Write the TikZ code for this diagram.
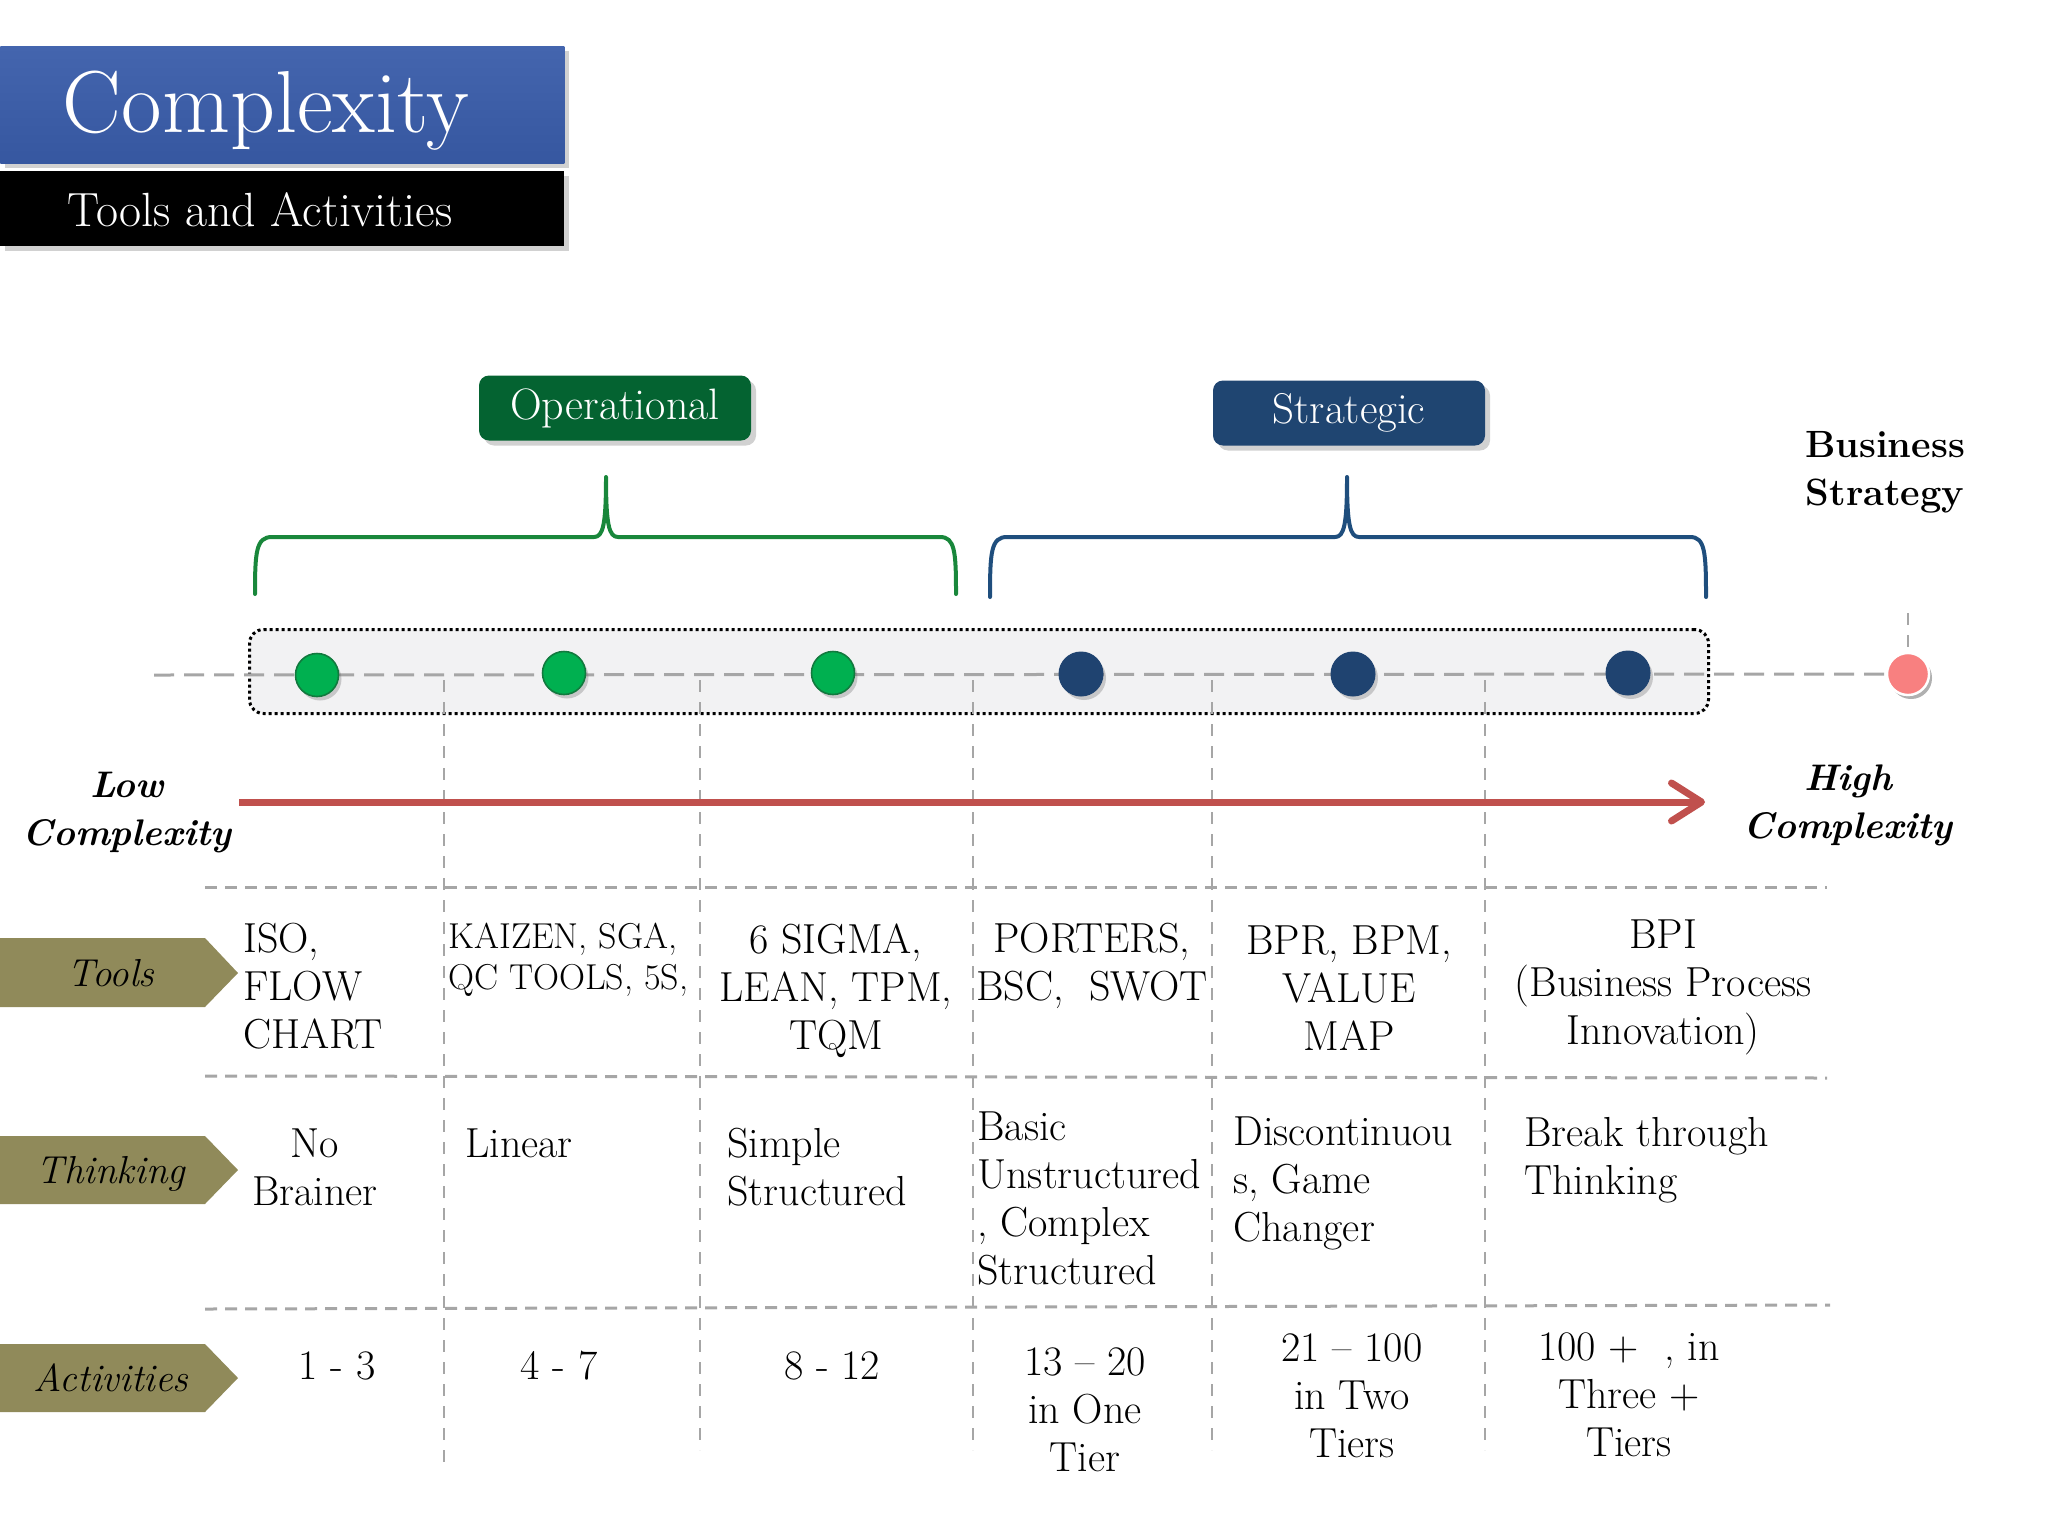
\documentclass[tikz,border=0pt]{standalone}
\usetikzlibrary{arrows.meta,shadows}
\definecolor{titleblueA}{HTML}{4465AE}
\definecolor{titleblueB}{HTML}{3657A0}
\definecolor{opgreen}{HTML}{046331}
\definecolor{stblue}{HTML}{1F4571}
\definecolor{bracegreen}{HTML}{19873B}
\definecolor{braceblue}{HTML}{1F4E7D}
\definecolor{dotgreen}{HTML}{00B050}
\definecolor{dotgreenb}{HTML}{127A3E}
\definecolor{dotblue}{HTML}{1F4370}
\definecolor{dotred}{HTML}{F88080}
\definecolor{arrowred}{HTML}{C0504D}
\definecolor{olivelab}{HTML}{908A5A}
\definecolor{dashgray}{HTML}{A6A6A6}
\definecolor{boxgray}{HTML}{F2F2F3}
\newcommand\cellfnt{\fontsize{21}{24}\selectfont}
\newcommand\smallcellfnt{\fontsize{18}{20.5}\selectfont}
\begin{document}
\begin{tikzpicture}[x=0.5pt,y=-0.5pt,
  softshadow/.style={drop shadow={shadow xshift=2.5pt,shadow yshift=-2.5pt,opacity=0.3,fill=black!60}},
  dotshadow/.style={drop shadow={shadow xshift=1.5pt,shadow yshift=-2pt,opacity=0.3,fill=black!60}},
  labbox/.style={rounded corners=5pt,text=white,minimum width=136pt,minimum height=32.5pt,softshadow},
  cell/.style={inner sep=0pt,font=\cellfnt},
  gdot/.style={circle,fill=dotgreen,draw=dotgreenb,line width=0.8pt,minimum size=21.5pt,inner sep=0pt,dotshadow},
  bdot/.style={circle,fill=dotblue,draw=dotblue,line width=0.5pt,minimum size=22pt,inner sep=0pt,dotshadow},
  rdot/.style={circle,fill=dotred,draw=white,line width=1.2pt,minimum size=21pt,inner sep=0pt,dotshadow},
  mainline/.style={draw=dashgray,line width=1.5pt,dash pattern=on 10pt off 5pt},
  colline/.style={draw=dashgray,line width=1pt,dash pattern=on 6pt off 5pt},
  rowline/.style={draw=dashgray,line width=1.5pt,dash pattern=on 6pt off 4pt},
  bracegreenline/.style={draw=bracegreen,line width=2pt,line cap=round,line join=round},
  braceblueline/.style={draw=braceblue,line width=2pt,line cap=round,line join=round},
  rowlab/.style={fill=olivelab},
  rowtext/.style={inner sep=0pt,font=\fontsize{19.5}{24}\selectfont\itshape},
  sidetext/.style={inner sep=0pt,align=center,font=\fontsize{18.5}{24}\selectfont\bfseries\itshape}
]
\useasboundingbox (0,0) rectangle (2048,1536);

% ---------- title ----------
\node[anchor=north west,inner sep=0pt,minimum width=282pt,minimum height=58.5pt,
  top color=titleblueA,bottom color=titleblueB,softshadow] (tbox) at (0,46) {};
\node[anchor=base,inner sep=0pt,text=white,font=\fontsize{44}{50}\selectfont] (ttl) at (266,133) {Complexity};
\node[anchor=north west,inner sep=0pt,minimum width=282pt,minimum height=37.5pt,
  fill=black,softshadow] (sbox) at (0,171) {};
\node[anchor=base,inner sep=0pt,text=white,font=\fontsize{24}{28}\selectfont] (sub) at (260,226) {Tools and Activities};

% ---------- category labels ----------
\node[labbox,fill=opgreen,font=\fontsize{22}{26}\selectfont] (oper) at (615,408) {Operational};
\node[labbox,fill=stblue,font=\fontsize{21.5}{26}\selectfont] (strat) at (1349,413) {Strategic};
\node[anchor=north,inner sep=0pt,align=center,font=\fontsize{19}{24}\selectfont\bfseries] (bstrat) at (1885,431) {Business\\Strategy};

% ---------- braces ----------
\draw[bracegreenline] (255,594) .. controls (255,552) and (256,537) .. (272,537) -- (594,537)
  .. controls (603,537) and (606,525) .. (606,477) .. controls (606,525) and (609,537) .. (618,537)
  -- (940,537) .. controls (955,537) and (956,552) .. (956,594);
\draw[braceblueline] (990,597) .. controls (990,552) and (991,537) .. (1007,537) -- (1335,537)
  .. controls (1344,537) and (1347,525) .. (1347,477) .. controls (1347,525) and (1350,537) .. (1359,537)
  -- (1690,537) .. controls (1705,537) and (1706,552) .. (1706,597);

% ---------- track ----------
\node[anchor=north west,inner sep=0pt,minimum width=729.5pt,minimum height=42pt,rounded corners=7pt,
  fill=boxgray,draw=black,line width=1.5pt,dash pattern=on 1.5pt off 1.5pt] (track) at (248,628) {};
\coordinate (dL) at (154,675);
\coordinate (rtop) at (1908,613);
\node[rdot] (red) at (1908,674) {};
\draw[mainline] (dL) -- (red.west);
\draw[colline] (rtop) -- (red.north);

% column separators
\foreach \cx/\cy in {444/1469,700/1450,973/1450,1212/1450,1485/1450}{
  \draw[colline] (\cx,680) -- (\cx,\cy);
}

\node[gdot] (g1) at (317,675) {};
\node[gdot] (g2) at (564,673) {};
\node[gdot] (g3) at (833,673) {};
\node[bdot] (b1) at (1081,674) {};
\node[bdot] (b2) at (1353,674) {};
\node[bdot] (b3) at (1628,673) {};
\node[rdot] at (1908,674) {};

% ---------- complexity arrow ----------
\node[sidetext,anchor=north] (low) at (127,772) {Low\\Complexity};
\node[sidetext,anchor=north] (high) at (1848,764) {High\\Complexity};
\coordinate (arrS) at (239,802);
\coordinate (arrE) at (1705,802);
\draw[draw=arrowred,line width=3.5pt,-{Straight Barb[length=15pt,width=19pt,round]}] (arrS) -- (arrE);

% ---------- table rows ----------
\draw[rowline] (205,887) -- (1827,887);
\draw[rowline] (205,1076) -- (1827,1078);
\draw[rowline] (205,1309) -- (1830,1305);

\fill[rowlab] (0,938) -- (205,938) -- (238,973) -- (205,1007) -- (0,1007) -- cycle;
\fill[rowlab] (0,1136) -- (205,1136) -- (238,1170) -- (205,1204) -- (0,1204) -- cycle;
\fill[rowlab] (0,1344) -- (205,1344) -- (238,1378) -- (205,1412) -- (0,1412) -- cycle;
\node[rowtext,anchor=base] (ltools) at (111,986) {Tools};
\node[rowtext,anchor=base] (lthink) at (111,1183) {Thinking};
\node[rowtext,anchor=base] (lact) at (111,1391) {Activities};

% Tools
\node[cell,anchor=north west,align=left] (t1) at (243,923) {ISO,\\FLOW\\CHART};
\node[inner sep=0pt,font=\smallcellfnt,anchor=north west,align=left] (t2) at (448,923) {KAIZEN, SGA,\\QC TOOLS, 5S,};
\node[cell,anchor=north,align=center] (t3) at (836,923) {6 SIGMA,\\LEAN, TPM,\\TQM};
\node[cell,anchor=north,align=center] (t4) at (1092,923) {PORTERS,\\BSC,~ SWOT};
\node[cell,anchor=north,align=center] (t5) at (1349,925) {BPR, BPM,\\VALUE\\MAP};
\node[cell,anchor=north,align=center] (t6) at (1663,919) {BPI\\(Business Process\\Innovation)};

% Thinking
\node[cell,anchor=north,align=center] (k1) at (315,1128) {No\\Brainer};
\node[cell,anchor=north west,align=left] (k2) at (465,1128) {Linear};
\node[cell,anchor=north west,align=left] (k3) at (727,1128) {Simple\\Structured};
\node[cell,anchor=north west,align=left] (k4) at (977,1111) {Basic\\Unstructured\\, Complex\\Structured};
\node[cell,anchor=north west,align=left] (k5) at (1233,1116) {Discontinuou\\s, Game\\Changer};
\node[cell,anchor=north west,align=left] (k6) at (1524,1117) {Break through\\Thinking};

% Activities
\node[cell,anchor=north,align=center] (a1) at (337,1351) {1 - 3};
\node[cell,anchor=north,align=center] (a2) at (559,1351) {4 - 7};
\node[cell,anchor=north,align=center] (a3) at (832,1351) {8 - 12};
\node[cell,anchor=north,align=center] (a4) at (1085,1347) {13 – 20\\in One\\Tier};
\node[cell,anchor=north,align=center] (a5) at (1352,1333) {21 – 100\\in Two\\Tiers};
\node[cell,anchor=north,align=center] (a6) at (1629,1332) {100 +~~, in\\Three +\\Tiers};
\end{tikzpicture}
\end{document}
